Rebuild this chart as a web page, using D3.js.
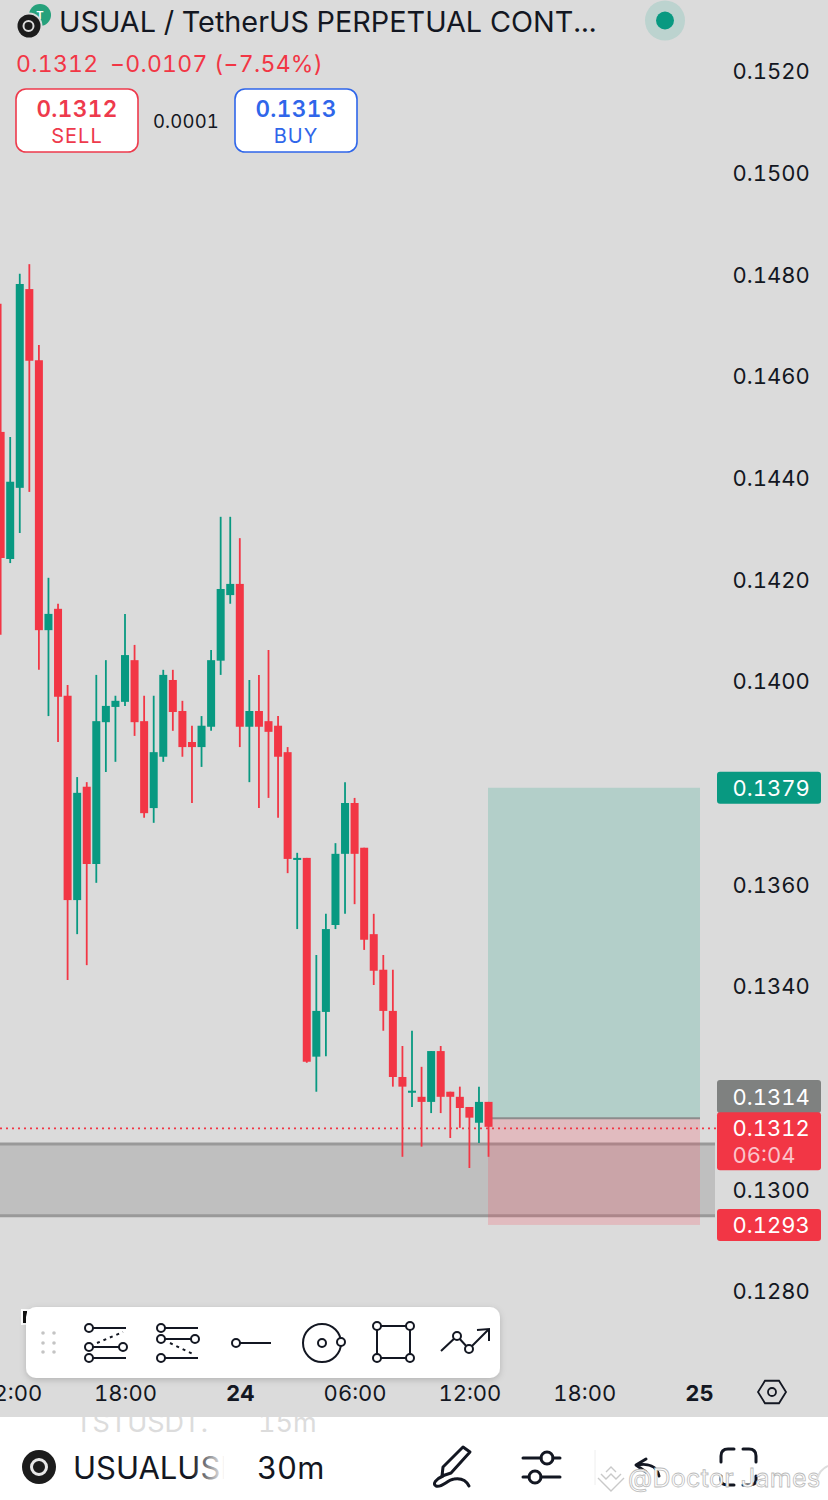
<!DOCTYPE html>
<html><head><meta charset="utf-8">
<script src="https://cdn.jsdelivr.net/npm/d3@7/dist/d3.min.js"></script>
<style>html,body{margin:0;padding:0;background:#dbdbdb;overflow:hidden}svg{display:block}text{font-family:Inter,Roboto,"Liberation Sans",sans-serif;font-feature-settings:"tnum"}</style>
</head><body><div id="chart"></div>
<script>
const highs=[.14742,.14480,.14801,.14820,.14661,.14203,.14152,.13992,.13811,.13801,.14012,.14041,.13971,.14132,.14071,.13971,.13971,.14022,.14022,.13961,.13912,.13931,.14061,.14323,.14323,.14281,.14002,.14012,.14061,.13931,.13870,.13662,.13652,.13461,.13542,.13681,.13801,.13770,.13672,.13542,.13461,.13432,.13282,.13312,.13241,.13272,.13282,.13192,.13202,.13162,.13202,.13172];
const opens=[.14490,.14240,.14380,.14771,.14631,.14100,.14142,.13971,.13569,.13792,.13640,.13919,.13949,.13959,.14041,.13921,.13750,.13851,.14002,.13941,.13880,.13870,.13910,.14040,.14169,.14191,.13910,.13941,.13921,.13912,.13860,.13648,.13652,.13261,.13349,.13520,.13660,.13760,.13672,.13502,.13432,.13351,.13221,.13190,.13182,.13172,.13272,.13192,.13182,.13162,.13131,.13172];
const closes=[.14242,.14392,.14781,.14630,.14100,.14132,.13969,.13569,.13780,.13640,.13921,.13951,.13961,.14051,.13919,.13740,.13860,.14012,.13939,.13870,.13870,.13912,.14041,.14181,.14191,.13910,.13941,.13910,.13900,.13851,.13650,.13652,.13251,.13351,.13512,.13660,.13760,.13660,.13491,.13430,.13351,.13221,.13202,.13194,.13172,.13272,.13182,.13182,.13160,.13141,.13172,.13123];
const lows=[.14091,.14232,.14291,.14372,.14022,.13931,.13880,.13412,.13502,.13441,.13603,.13821,.13841,.13951,.13892,.13731,.13721,.13841,.13902,.13851,.13760,.13831,.13902,.14012,.14152,.13870,.13801,.13750,.13770,.13731,.13622,.13512,.13249,.13192,.13262,.13512,.13542,.13561,.13471,.13402,.13312,.13202,.13064,.13162,.13084,.13150,.13150,.13101,.13121,.13042,.13091,.13064];
const firstCandle=Date.UTC(2025,2,23,11,30);
const priceTicks=[.152,.150,.148,.146,.144,.142,.140,.136,.134,.132,.130,.128];
const timeTicks=[Date.UTC(2025,2,23,12),Date.UTC(2025,2,23,18),Date.UTC(2025,2,24,0),Date.UTC(2025,2,24,6),Date.UTC(2025,2,24,12),Date.UTC(2025,2,24,18),Date.UTC(2025,2,25,0)].map(d=>new Date(d));
const lastPrice=.1312,targetPrice=.1379,entryPrice=.1314,stopPrice=.1293,zoneHigh=.13089,zoneLow=.12948;

const RED="#f23645",GREEN="#089981",W=828,H=1500;
const times=highs.map((_,i)=>d3.utcMinute.offset(new Date(firstCandle),i*30));
const y=d3.scaleLinear().domain([.128,.152]).range([1291,71]);
const x=d3.scaleUtc().domain([new Date(Date.UTC(2025,2,23,18)),new Date(Date.UTC(2025,2,25,0))]).range([125,699]);
const svg=d3.select("#chart").append("svg").attr("width",W).attr("height",H).attr("viewBox",`0 0 ${W} ${H}`);
const defs=svg.append("defs");
const fg=defs.append("linearGradient").attr("id","fade");
fg.append("stop").attr("offset","0").attr("stop-color","#fff").attr("stop-opacity",0);
fg.append("stop").attr("offset","1").attr("stop-color","#fff").attr("stop-opacity",1);
const sh=defs.append("filter").attr("id","sh").attr("x","-10%").attr("y","-30%").attr("width","120%").attr("height","160%");
sh.append("feDropShadow").attr("dx",0).attr("dy",2).attr("stdDeviation",3).attr("flood-color","#000").attr("flood-opacity",.18);

svg.append("rect").attr("width",W).attr("height",H).attr("fill","#dbdbdb");

// zone
svg.append("rect").attr("x",0).attr("width",715).attr("y",y(zoneHigh)).attr("height",y(zoneLow)-y(zoneHigh)).attr("fill","#bfbfbf");
[zoneHigh,zoneLow].forEach(p=>svg.append("line").attr("x1",0).attr("x2",715).attr("y1",y(p)).attr("y2",y(p)).attr("stroke","#999").attr("stroke-width",3));
// position tool
const bx=488,bw=212;
svg.append("rect").attr("x",bx).attr("width",bw).attr("y",y(targetPrice)).attr("height",y(entryPrice)-y(targetPrice)).attr("fill","#b3cfc9");
svg.append("rect").attr("x",bx).attr("width",bw).attr("y",y(entryPrice)).attr("height",y(stopPrice)-y(entryPrice)).attr("fill","#fb3a50").attr("fill-opacity",.2);
svg.append("line").attr("x1",bx).attr("x2",bx+bw).attr("y1",y(entryPrice)).attr("y2",y(entryPrice)).attr("stroke","#8c8c8c").attr("stroke-width",2);
// last price line
svg.append("line").attr("x1",0).attr("x2",716).attr("y1",y(lastPrice)).attr("y2",y(lastPrice)).attr("stroke",RED).attr("stroke-width",1.6).attr("stroke-dasharray","2 4");

// candles
const c=svg.append("g").selectAll("g").data(times).join("g");
const col=i=>closes[i]>=opens[i]?GREEN:RED;
c.append("line").attr("x1",d=>x(d)).attr("x2",d=>x(d)).attr("y1",(d,i)=>y(highs[i])).attr("y2",(d,i)=>y(lows[i])).attr("stroke",(d,i)=>col(i)).attr("stroke-width",1.8);
c.append("rect").attr("x",d=>x(d)-4).attr("width",8).attr("y",(d,i)=>y(Math.max(opens[i],closes[i]))).attr("height",(d,i)=>Math.max(2,Math.abs(y(opens[i])-y(closes[i])))).attr("fill",(d,i)=>col(i));

// axes
const ya=svg.append("g").attr("transform","translate(732.5,0)").call(d3.axisRight(y).tickValues(priceTicks).tickFormat(d3.format(".4f")).tickSize(0).tickPadding(0));
ya.select(".domain").remove();
ya.selectAll("text").attr("font-size",22).attr("fill","#131722").attr("dy","0.36em").attr("x",0);

const xa=svg.append("g").attr("transform","translate(0,1393)").call(d3.axisBottom(x).tickValues(timeTicks).tickFormat(d=>d.getUTCHours()===0?d3.utcFormat("%d")(d):d3.utcFormat("%H:%M")(d)).tickSize(0).tickPadding(0));
xa.select(".domain").remove();
xa.selectAll("text").attr("font-size",22).attr("fill","#131722").attr("y",0).attr("dy","0.36em").attr("font-weight",d=>d.getUTCHours()===0?700:400);

// price tags
function tag(y0,h,fill,lines){
  svg.append("rect").attr("x",717).attr("y",y0).attr("width",104).attr("height",h).attr("rx",3).attr("fill",fill);
  lines.forEach(l=>svg.append("text").attr("x",732.5).attr("y",l.y).attr("dy","0.36em").attr("font-size",22).attr("fill",l.c||"#fff").text(l.t));
}
tag(y(targetPrice)-16,32,GREEN,[{t:d3.format(".4f")(targetPrice),y:y(targetPrice)}]);
tag(1080,33,"#7f8180",[{t:d3.format(".4f")(entryPrice),y:1097}]);
tag(y(lastPrice)-16,58,RED,[{t:d3.format(".4f")(lastPrice),y:y(lastPrice)},{t:"06:04",y:1155,c:"#fbc4ca"}]);
tag(y(stopPrice)-16,32,RED,[{t:d3.format(".4f")(stopPrice),y:y(stopPrice)}]);

// header
const T=(s,xx,yy,fs,f,o={})=>svg.append("text").attr("x",xx).attr("y",yy).attr("font-size",fs).attr("fill",f).attr("text-anchor",o.a||"start").attr("font-weight",o.w||400).style("letter-spacing",o.ls||"0").text(s);
svg.append("circle").attr("cx",40).attr("cy",15).attr("r",11).attr("fill","#26a17b");
svg.append("text").attr("x",40).attr("y",19).attr("text-anchor","middle").attr("font-size",11).attr("font-weight",700).attr("fill","#fff").text("T");
svg.append("circle").attr("cx",29).attr("cy",26).attr("r",13.5).attr("fill","#dbdbdb");
svg.append("circle").attr("cx",29).attr("cy",26).attr("r",11.5).attr("fill","#1c1c1c");
svg.append("circle").attr("cx",28.5).attr("cy",26).attr("r",5).attr("fill","none").attr("stroke","#dcdcdc").attr("stroke-width",2);
T("USUAL / TetherUS PERPETUAL CONT...",59,32,28.8,"#131722");
T("0.1312",16,72,23,RED,{ls:"0.3px"});
T("−0.0107 (−7.54%)",110,72,23,RED,{ls:"0.3px"});
svg.append("circle").attr("cx",665).attr("cy",20.5).attr("r",20).attr("fill","#bcd3cf");
svg.append("circle").attr("cx",665).attr("cy",20.5).attr("r",9).attr("fill",GREEN);

function btn(xx,col,a,b){
  svg.append("rect").attr("x",xx).attr("y",89).attr("width",122).attr("height",63).attr("rx",10).attr("fill","#fff").attr("stroke",col).attr("stroke-width",1.6);
  T(a,xx+61,117,22.5,col,{a:"middle",w:600,ls:"0.4px"});
  T(b,xx+61,143,20,col,{a:"middle",ls:"1px"});
}
btn(16,"#ee3a4c","0.1312","SELL");
btn(235,"#2f66ea","0.1313","BUY");
T("0.0001",186,128,18.5,"#131722",{a:"middle",ls:"0.2px"});

// settings hexagon
const hex=d3.range(6).map(i=>{const a=i*Math.PI/3;return [772+14*Math.cos(a),1392+13*Math.sin(a)]});
svg.append("polygon").attr("points",hex.join(" ")).attr("fill","none").attr("stroke","#131722").attr("stroke-width",1.8);
svg.append("circle").attr("cx",772).attr("cy",1392).attr("r",4).attr("fill","none").attr("stroke","#131722").attr("stroke-width",1.8);

// drawing toolbar
svg.append("rect").attr("x",21).attr("y",1309).attr("width",10).attr("height",16).attr("fill","#fff");
svg.append("rect").attr("x",23).attr("y",1311).attr("width",4).attr("height",12).attr("fill","#111");
svg.append("rect").attr("x",26).attr("y",1307).attr("width",474).attr("height",71).attr("rx",10).attr("fill","#fff").attr("filter","url(#sh)");
[43,54].forEach(a=>[1333,1343,1352].forEach(b=>svg.append("circle").attr("cx",a).attr("cy",b).attr("r",1.8).attr("fill","#c4c4c4")));
const ic=svg.append("g").attr("fill","none").attr("stroke","#131722").attr("stroke-width",2);
const L=(a,b,c2,d,da)=>{const l=ic.append("line").attr("x1",a).attr("y1",b).attr("x2",c2).attr("y2",d);if(da)l.attr("stroke-dasharray",da);};
const O=(a,b,r=4)=>ic.append("circle").attr("cx",a).attr("cy",b).attr("r",r).attr("fill","#fff");
L(89,1328,126,1328);L(89,1347,123,1347);L(89,1358,126,1358);L(97,1343,123,1332,"3 4");O(89,1328);O(89,1347);O(123,1347);O(89,1358);
L(161,1328,198,1328);L(161,1339,195,1339);L(161,1358,198,1358);L(170,1343,195,1355,"3 4");O(161,1328);O(161,1339);O(195,1339);O(161,1358);
L(236,1343,271,1343);O(236,1343);
ic.append("circle").attr("cx",322).attr("cy",1343).attr("r",19);O(322,1343);O(341,1342);
ic.append("rect").attr("x",377).attr("y",1326).attr("width",33).attr("height",32);O(377,1326);O(410,1326);O(377,1358);O(410,1358);
ic.append("polyline").attr("points","441,1351 457,1336 469,1349 488,1330");ic.append("polyline").attr("points","477,1330 489,1329 489,1341");O(457,1336);O(469,1349);

// bottom bar
svg.append("rect").attr("x",0).attr("y",1417).attr("width",W).attr("height",83).attr("fill","#fff");
const cp=defs.append("clipPath").attr("id","fadeclip");cp.append("rect").attr("x",0).attr("y",1417).attr("width",W).attr("height",40);
const gh=svg.append("g").attr("clip-path","url(#fadeclip)");
gh.append("text").attr("x",75).attr("y",1432).attr("font-size",27).attr("fill","#dcdcdc").text("TSTUSDT.");
gh.append("text").attr("x",258).attr("y",1432).attr("font-size",27).attr("fill","#dcdcdc").text("15m");
svg.append("circle").attr("cx",39).attr("cy",1467).attr("r",17).attr("fill","#1c1c1c");
svg.append("circle").attr("cx",39).attr("cy",1467).attr("r",7.5).attr("fill","none").attr("stroke","#e8e8e8").attr("stroke-width",3);
T("USUALUSD",73,1479,31,"#131722");
svg.append("rect").attr("x",192).attr("y",1445).attr("width",33).attr("height",45).attr("fill","url(#fade)");
svg.append("rect").attr("x",224).attr("y",1445).attr("width",40).attr("height",45).attr("fill","#fff");
T("30m",257,1479,31,"#131722");

const b=svg.append("g").attr("fill","none").attr("stroke","#131722").attr("stroke-width",3).attr("stroke-linecap","round").attr("stroke-linejoin","round");
b.append("path").attr("d","M463,1447 L470,1452 L451,1473 L442,1476 L443,1467 Z");
b.append("path").attr("d","M443,1476 C436,1479 432,1484 436,1486 C442,1488 447,1480 454,1479 C460,1478 466,1480 469,1486");
b.append("path").attr("d","M523,1458 H541 M553,1458 H560 M523,1477 H529 M541,1477 H560");
b.append("circle").attr("cx",547).attr("cy",1458).attr("r",6);b.append("circle").attr("cx",535).attr("cy",1477).attr("r",6);
b.append("path").attr("d","M646,1459 L636,1465 L646,1472 M637,1465 C648,1463 657,1466 659,1476");
b.append("path").attr("d","M721,1462 V1456 Q721,1449 728,1449 H734 M743,1449 H749 Q756,1449 756,1456 V1462 M756,1476 V1480 Q756,1485 749,1485 H743 M734,1485 H728 Q721,1485 721,1480 V1476");

// watermark
svg.append("line").attr("x1",595).attr("x2",595).attr("y1",1450).attr("y2",1485).attr("stroke","#eee");
const wm=svg.append("g").attr("fill","none").attr("stroke","#c9c9c9").attr("stroke-width",1.4);
wm.append("path").attr("d","M598,1478 L611,1491 L624,1478 M601,1474 L606,1479 L611,1474 L616,1479 L621,1474 M606,1472 L611,1467 L616,1472");
svg.append("text").attr("x",628).attr("y",1487).attr("font-size",25).attr("fill","#fff").attr("stroke","#bbb").attr("stroke-width",.8).style("letter-spacing","0.3px").text("@Doctor James");
svg.append("path").attr("d","M817,1480 Q819,1470 828,1466").attr("fill","none").attr("stroke","#ddd").attr("stroke-width",2);
</script></body></html>
